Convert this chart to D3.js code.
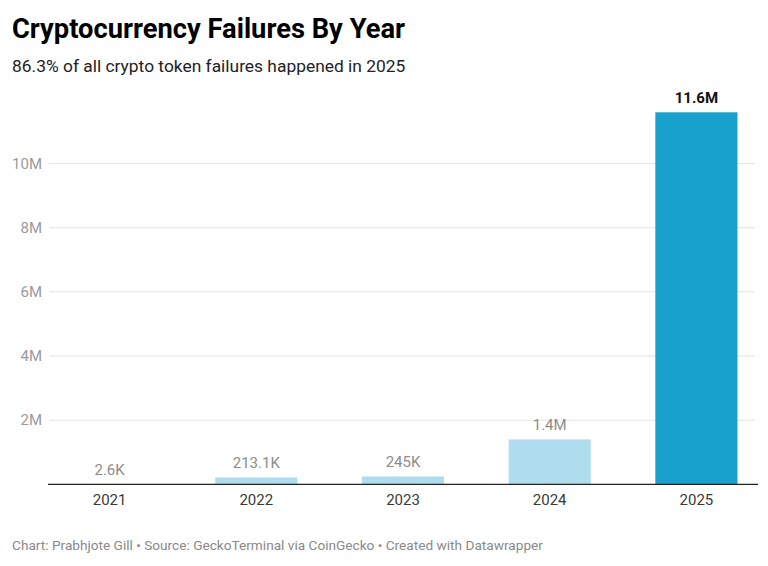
<!DOCTYPE html>
<html><head><meta charset="utf-8">
<script src="https://cdn.jsdelivr.net/npm/d3@7"></script>
<style>
body{margin:0;background:#fff;font-family:Roboto,"Noto Sans",sans-serif;}
</style></head>
<body><svg id="c" width="768" height="566"></svg>
<script>
const years = ["2021","2022","2023","2024","2025"];
const values = [2600, 213100, 245000, 1400000, 11600000];
const valueLabels = ["2.6K","213.1K","245K","1.4M","11.6M"];
const yTicks = [2e6, 4e6, 6e6, 8e6, 10e6];
const yTickLabels = ["2M","4M","6M","8M","10M"];

const svg = d3.select("#c");
const mLeft = 48, mRight = 758, mTop = 112.3, mBottom = 484.3;

svg.append("text").attr("x",12).attr("y",38).text("Cryptocurrency Failures By Year")
  .attr("font-size",27.3).attr("font-weight",700).attr("fill","#000");
svg.append("text").attr("x",12).attr("y",72).text("86.3% of all crypto token failures happened in 2025")
  .attr("font-size",17.4).attr("fill","#222");

const x = d3.scaleBand().domain(years).range([mLeft,mRight]).paddingInner(0.44).paddingOuter(0.14);
const y = d3.scaleLinear().domain([0,11.6e6]).range([mBottom,mTop]);

const g = svg.append("g");
g.selectAll("line.grid").data(yTicks).join("line").attr("class","grid")
  .attr("x1",mLeft+1).attr("x2",mRight-3).attr("y1",d=>y(d)).attr("y2",d=>y(d))
  .attr("stroke","#e3e3e3").attr("stroke-width",1);
g.selectAll("text.yt").data(yTicks).join("text").attr("class","yt")
  .attr("x",42).attr("y",d=>y(d)+5).attr("text-anchor","end")
  .attr("font-size",15).attr("fill","#9a9a9a").text((d,i)=>yTickLabels[i]);

g.selectAll("rect.bar").data(values).join("rect").attr("class","bar")
  .attr("x",(d,i)=>x(years[i])).attr("width",x.bandwidth())
  .attr("y",d=>y(d)).attr("height",d=>mBottom-y(d))
  .attr("fill",(d,i)=>i===4?"#18a1cc":"#b0dded");

g.selectAll("text.vl").data(values).join("text").attr("class","vl")
  .attr("x",(d,i)=>x(years[i])+x.bandwidth()/2).attr("y",d=>y(d)-9.5)
  .attr("text-anchor","middle").attr("font-size",15)
  .attr("font-weight",(d,i)=>i===4?700:400)
  .attr("fill",(d,i)=>i===4?"#111":"#8c8c8c")
  .text((d,i)=>valueLabels[i]);

g.append("line").attr("x1",mLeft).attr("x2",mRight).attr("y1",mBottom).attr("y2",mBottom)
  .attr("stroke","#222").attr("stroke-width",1.3);

g.selectAll("text.xl").data(years).join("text").attr("class","xl")
  .attr("x",d=>x(d)+x.bandwidth()/2).attr("y",505).attr("text-anchor","middle")
  .attr("font-size",15).attr("fill","#3a3a3a").text(d=>d);

svg.append("text").attr("x",12).attr("y",550)
  .text("Chart: Prabhjote Gill • Source: GeckoTerminal via CoinGecko • Created with Datawrapper")
  .attr("font-size",13.65).attr("fill","#8a8a8a");
</script></body></html>
